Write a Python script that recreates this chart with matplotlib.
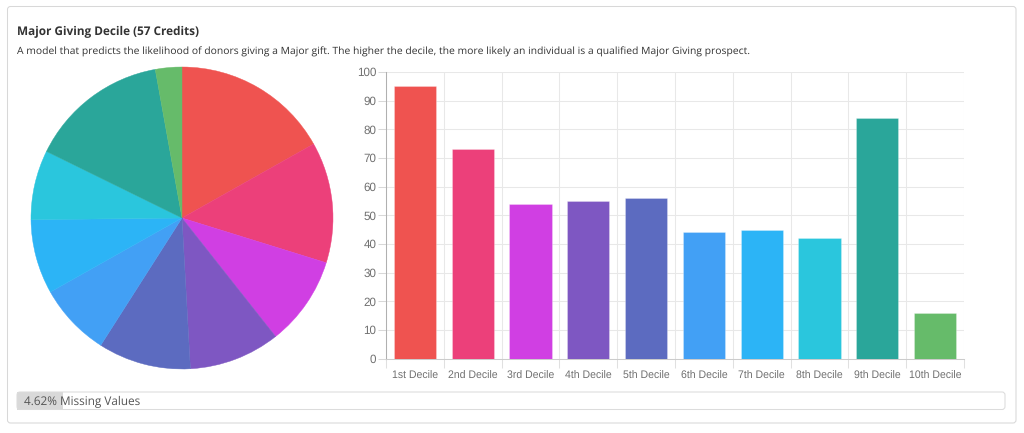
#!/usr/bin/env python3
import matplotlib
matplotlib.use('Agg')
import matplotlib.pyplot as plt
from matplotlib.patches import FancyBboxPatch, Rectangle

plt.rcParams['text.hinting'] = 'no_hinting'

W, H = 1024, 433

# data
deciles = ['1st Decile', '2nd Decile', '3rd Decile', '4th Decile', '5th Decile',
           '6th Decile', '7th Decile', '8th Decile', '9th Decile', '10th Decile']
counts = [95, 73, 54, 55, 56, 44, 45, 42, 84, 16]
colors = ['#EF5350', '#EC407A', '#D03FE3', '#7E57C2', '#5C6BC0',
          '#42A0F5', '#2CB4F6', '#2AC6DD', '#2AA69A', '#66BB6A']
y_ticks = list(range(0, 101, 10))
missing_pct = 4.62


def px_axes(fig, left, top, right, bottom):
    # axes placed by pixel box, y measured from the top of the image
    return fig.add_axes([left / W, 1 - bottom / H, (right - left) / W, (bottom - top) / H])


fig = plt.figure(figsize=(W / 100, H / 100), dpi=100, facecolor='white')

# background layer in pixel coordinates: card and progress bar
bg = fig.add_axes([0, 0, 1, 1])
bg.set_xlim(0, W)
bg.set_ylim(H, 0)
bg.axis('off')
bg.add_patch(FancyBboxPatch((7.5, 6.5), 1008.5, 416.5, boxstyle='round,pad=0,rounding_size=3',
                            fc='white', ec='#d8d8d8', lw=0.75))
bg.add_patch(Rectangle((17, 392), 46, 17.5, fc='#d9d9d9', ec='none'))
bg.add_patch(FancyBboxPatch((17, 392), 988, 17.5, boxstyle='round,pad=0,rounding_size=3',
                            fc='none', ec='#dcdcdc', lw=0.75))

bg.text(17, 31.5, 'Major Giving Decile (57 Credits)', fontsize=8.5, fontweight='bold',
        family='Open Sans', color='#333333', va='center')
bg.text(17, 52, 'A model that predicts the likelihood of donors giving a Major gift. '
        'The higher the decile, the more likely an individual is a qualified Major Giving prospect.',
        fontsize=7.51, family='Open Sans', color='#333333', va='center')
bg.text(24, 401.5, f'{missing_pct}% Missing Values', fontsize=8.5, family='Open Sans',
        color='#555555', va='center')

# pie, wedge edges in the face colour so no seams show between slices
ax1 = px_axes(fig, 31, 67, 333, 369)
wedges, _ = ax1.pie(counts, colors=colors, startangle=90, counterclock=False, radius=1.0)
for w in wedges:
    w.set_edgecolor(w.get_facecolor())
    w.set_linewidth(0.3)
ax1.set_xlim(-1, 1)
ax1.set_ylim(-1, 1)

# bars
ax2 = px_axes(fig, 386, 72, 964, 358.5)
ax2.bar(range(len(counts)), counts, width=0.73, color=colors, zorder=3,
        edgecolor=(1, 1, 1, 0.25), linewidth=0.75)
ax2.set_xlim(-0.5, 9.5)
ax2.set_ylim(0, 100)
ax2.set_yticks(y_ticks)
ax2.set_xticks([i - 0.5 for i in range(11)], minor=False)
ax2.set_xticklabels([])
ax2.set_xticks(range(10), minor=True)
ax2.set_xticklabels(deciles, minor=True, fontsize=7.6, family='Liberation Sans', color='#707070')
ax2.tick_params(axis='x', which='major', length=6.5, color='#e0e0e0', width=0.75)
ax2.tick_params(axis='x', which='minor', length=0, pad=9)
ax2.tick_params(axis='y', length=6, color='#d8d8d8', width=0.75, pad=1, labelcolor='#707070')
for lab in ax2.get_yticklabels():
    lab.set_fontsize(8.4)
    lab.set_family('Liberation Sans')
ax2.grid(True, which='major', color='#e8e8e8', lw=0.75, zorder=0)
ax2.set_axisbelow(True)
for side in ['top', 'right']:
    ax2.spines[side].set_visible(False)
ax2.spines['left'].set_color('#b0b0b0')
ax2.spines['bottom'].set_color('#cccccc')
for side in ['left', 'bottom']:
    ax2.spines[side].set_linewidth(0.75)
ax2.spines['left'].set_bounds(0, 100)
ax2.get_xticklines()[0].set_color('#b0b0b0')

fig.savefig('out.png', dpi=100)
